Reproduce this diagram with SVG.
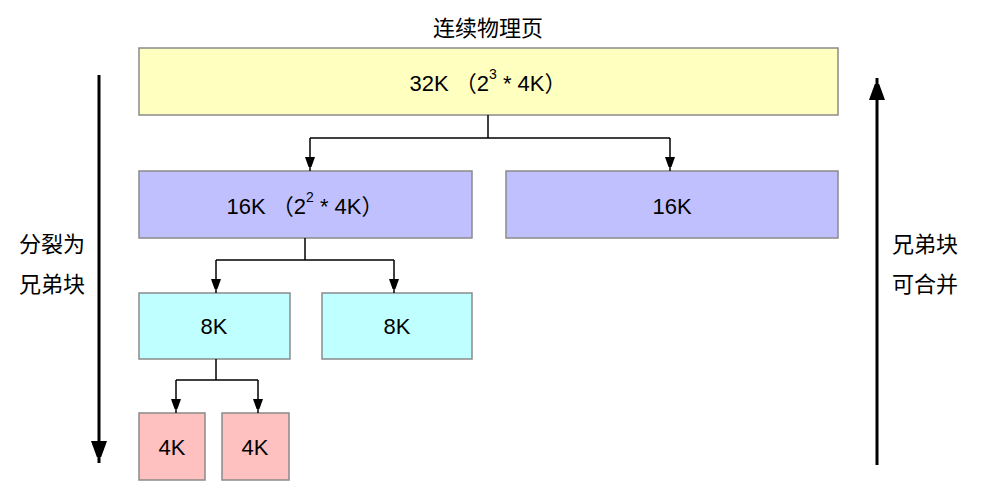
<svg xmlns="http://www.w3.org/2000/svg" width="988" height="491" viewBox="0 0 988 491">
<style>
.b{stroke:#8a8a8a;stroke-width:1.5}
.t{font-family:"Liberation Sans","Noto Sans CJK SC",sans-serif;font-size:22px;fill:#000;text-anchor:middle}
.s{font-size:14px}
.c{fill:none;stroke:#000;stroke-width:1.5}
.big{fill:none;stroke:#000;stroke-width:3}
</style>
<defs>
<marker id="a" markerWidth="10" markerHeight="12" refX="5" refY="12" orient="auto" markerUnits="userSpaceOnUse" viewBox="0 0 10 12"><path d="M0,0 L10,0 L5,12z" fill="#000" transform="rotate(0)"/></marker>
<marker id="ah" markerWidth="10" markerHeight="14" refX="14" refY="5" orient="auto" markerUnits="userSpaceOnUse"><path d="M0,0 L14,5 L0,10z" fill="#000"/></marker>
<marker id="bh" markerWidth="16" markerHeight="22" refX="22" refY="8" orient="auto" markerUnits="userSpaceOnUse"><path d="M0,0 L22,8 L0,16z" fill="#000"/></marker>
</defs>
<text class="t" x="488" y="36">连续物理页</text>
<g id="n32"><rect class="b" x="139" y="48" width="699" height="67" fill="#ffffc0"/><text class="t" x="488" y="91">32K （2<tspan class="s" dy="-12">3</tspan><tspan dy="12"> * 4K）</tspan></text></g>
<g id="n16a"><rect class="b" x="139" y="171" width="333" height="67" fill="#c0c0ff"/><text class="t" x="305" y="214">16K （2<tspan class="s" dy="-12">2</tspan><tspan dy="12"> * 4K）</tspan></text></g>
<g id="n16b"><rect class="b" x="506" y="171" width="332" height="67" fill="#c0c0ff"/><text class="t" x="672" y="214">16K</text></g>
<g id="n8a"><rect class="b" x="139" y="293" width="151" height="66" fill="#c0ffff"/><text class="t" x="214" y="334">8K</text></g>
<g id="n8b"><rect class="b" x="322" y="293" width="150" height="66" fill="#c0ffff"/><text class="t" x="397" y="334">8K</text></g>
<g id="n4a"><rect class="b" x="139" y="413" width="66" height="67" fill="#ffc0c0"/><text class="t" x="172" y="455">4K</text></g>
<g id="n4b"><rect class="b" x="222" y="413" width="67" height="67" fill="#ffc0c0"/><text class="t" x="255" y="455">4K</text></g>
<g id="connectors">
<path class="c" d="M488,115 V138"/><path class="c" d="M310,138 H670"/>
<path class="c" d="M310,138 V171" marker-end="url(#ah)"/><path class="c" d="M670,138 V171" marker-end="url(#ah)"/>
<path class="c" d="M305,238 V260"/><path class="c" d="M216,260 H394"/>
<path class="c" d="M216,260 V293" marker-end="url(#ah)"/><path class="c" d="M394,260 V293" marker-end="url(#ah)"/>
<path class="c" d="M216,359 V380"/><path class="c" d="M176,380 H258"/>
<path class="c" d="M176,380 V413" marker-end="url(#ah)"/><path class="c" d="M258,380 V413" marker-end="url(#ah)"/>
<path class="big" d="M99,75 V463" marker-end="url(#bh)"/>
<path class="big" d="M877,465 V78" marker-end="url(#bh)"/>
</g>
<text class="t" x="52" y="252">分裂为</text>
<text class="t" x="52" y="292">兄弟块</text>
<text class="t" x="925" y="252">兄弟块</text>
<text class="t" x="925" y="292">可合并</text>
</svg>
